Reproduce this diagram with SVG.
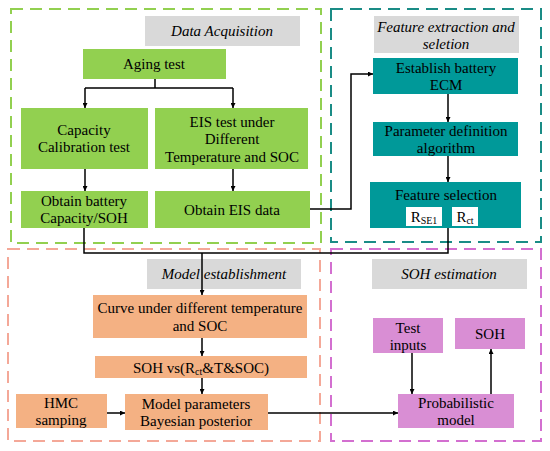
<svg xmlns="http://www.w3.org/2000/svg" width="550" height="451" viewBox="0 0 550 451" font-family="'Liberation Serif', 'Times New Roman', serif">
<defs>
<marker id="ah" viewBox="0 0 10 10" refX="10" refY="5" markerWidth="5" markerHeight="5" orient="auto" markerUnits="userSpaceOnUse">
<path d="M0,0 L10,5 L0,10 z" fill="#000"/>
</marker>
<style>
text{font-family:'Liberation Serif','Times New Roman',serif;font-size:15px;fill:#000;text-anchor:middle}
.it{font-style:italic}
.grp{fill:none;stroke-width:2;stroke-dasharray:12,7}
.lbl{fill:#d9d9d9}
.g{fill:#92d050}
.t{fill:#009999}
.s{fill:#f4b183}
.p{fill:#d98ed4}
.w{fill:#fff}
.c{fill:none;stroke:#000;stroke-width:1.5}
</style>
</defs>
<rect width="550" height="451" fill="#fff"/>
<g id="groups">
<rect class="grp" x="11" y="9" width="310" height="234" stroke="#92d050"/>
<rect class="grp" x="331" y="9" width="210" height="233" stroke="#1a8c86"/>
<rect class="grp" x="8" y="249" width="312" height="192" stroke="#f4a898"/>
<rect class="grp" x="331" y="249" width="210" height="192" stroke="#d36fd0"/>
</g>
<g id="label-data"><rect class="lbl" x="145" y="16" width="155" height="30"/><text class="it" x="222" y="36">Data Acquisition</text></g>
<g id="label-feature"><rect class="lbl" x="374" y="16" width="145" height="37"/><text class="it" x="446" y="32">Feature extraction and</text><text class="it" x="446" y="49">seletion</text></g>
<g id="label-model"><rect class="lbl" x="147" y="259" width="154" height="30"/><text class="it" x="224" y="279">Model establishment</text></g>
<g id="label-soh"><rect class="lbl" x="372" y="259" width="155" height="30"/><text class="it" x="449" y="279">SOH estimation</text></g>

<g id="aging"><rect class="g" x="83" y="49" width="143" height="30"/><text x="154" y="69">Aging test</text></g>
<g id="capacity"><rect class="g" x="21" y="108" width="127" height="61"/><text x="84" y="135">Capacity</text><text x="84" y="152">Calibration test</text></g>
<g id="eis"><rect class="g" x="155" y="108" width="153" height="61"/><text x="232" y="127">EIS test under</text><text x="232" y="144">Different</text><text x="232" y="162">Temperature and SOC</text></g>
<g id="obtain-cap"><rect class="g" x="21" y="191" width="127" height="37"/><text x="84" y="206">Obtain battery</text><text x="84" y="223">Capacity/SOH</text></g>
<g id="obtain-eis"><rect class="g" x="155" y="191" width="155" height="37"/><text x="232" y="215">Obtain EIS data</text></g>

<g id="ecm"><rect class="t" x="373" y="58" width="145" height="36"/><text x="446" y="73">Establish battery</text><text x="446" y="90">ECM</text></g>
<g id="param"><rect class="t" x="373" y="122" width="145" height="34"/><text x="446" y="136">Parameter definition</text><text x="446" y="153">algorithm</text></g>
<g id="feature"><rect class="t" x="370" y="182" width="151" height="46"/><text x="446" y="200">Feature selection</text>
<rect class="w" x="406" y="207" width="36" height="19"/><text x="424" y="222">R<tspan font-size="10" dy="2">SE1</tspan></text>
<rect class="w" x="452" y="207" width="26" height="19"/><text x="465" y="222">R<tspan font-size="10" dy="2">ct</tspan></text></g>

<g id="curve"><rect class="s" x="93" y="295" width="214" height="43"/><text x="200" y="313">Curve under different temperature</text><text x="200" y="331">and SOC</text></g>
<g id="sohvs"><rect class="s" x="95" y="356" width="212" height="22"/><text x="201" y="373">SOH vs(R<tspan font-size="10" dy="2">ct</tspan><tspan dy="-2">&amp;T&amp;SOC)</tspan></text></g>
<g id="hmc"><rect class="s" x="16" y="394" width="91" height="34"/><text x="61" y="408">HMC</text><text x="61" y="425">samping</text></g>
<g id="bayes"><rect class="s" x="125" y="394" width="143" height="36"/><text x="196" y="409">Model parameters</text><text x="196" y="426">Bayesian posterior</text></g>

<g id="test"><rect class="p" x="373" y="318" width="70" height="35"/><text x="408" y="333">Test</text><text x="408" y="350">inputs</text></g>
<g id="soh"><rect class="p" x="455" y="318" width="70" height="31"/><text x="490" y="339">SOH</text></g>
<g id="prob"><rect class="p" x="398" y="394" width="116" height="34"/><text x="456" y="408">Probabilistic</text><text x="456" y="425">model</text></g>

<g id="connectors">
<path class="c" d="M155,79 V88 M85,88 H233"/>
<path class="c" d="M85,88 V108" marker-end="url(#ah)"/>
<path class="c" d="M233,88 V108" marker-end="url(#ah)"/>
<path class="c" d="M85,169 V191" marker-end="url(#ah)"/>
<path class="c" d="M233,169 V191" marker-end="url(#ah)"/>
<path class="c" d="M310,209 H351 V74 H373" marker-end="url(#ah)"/>
<path class="c" d="M448,94 V122" marker-end="url(#ah)"/>
<path class="c" d="M448,156 V182" marker-end="url(#ah)"/>
<path class="c" d="M84,228 V253 H448 V228"/>
<path class="c" d="M202,253 V295" marker-end="url(#ah)"/>
<path class="c" d="M202,338 V356" marker-end="url(#ah)"/>
<path class="c" d="M202,378 V394" marker-end="url(#ah)"/>
<path class="c" d="M107,413 H125" marker-end="url(#ah)"/>
<path class="c" d="M268,413 H398" marker-end="url(#ah)"/>
<path class="c" d="M412,353 V394" marker-end="url(#ah)"/>
<path class="c" d="M491,394 V349" marker-end="url(#ah)"/>
</g>
</svg>
